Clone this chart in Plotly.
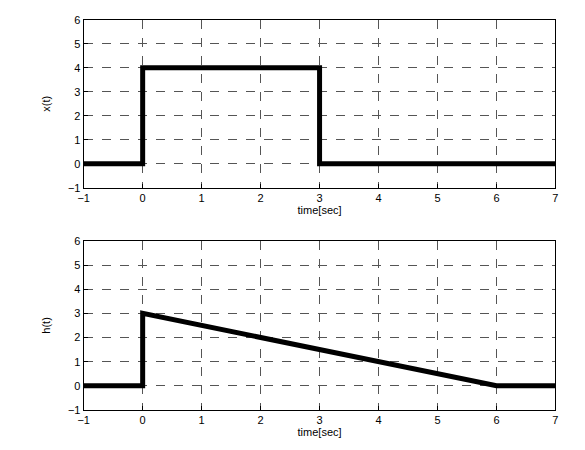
import plotly.graph_objects as go
from plotly.subplots import make_subplots

# x(t): rectangular pulse
x_time = [-1, 0, 0, 3, 3, 7]
x_vals = [0, 0, 4, 4, 0, 0]

# h(t): ramp down from 3 to 0
h_time = [-1, 0, 0, 6, 7]
h_vals = [0, 0, 3, 0, 0]

fig = make_subplots(rows=2, cols=1)
fig.add_trace(go.Scatter(x=x_time, y=x_vals, mode="lines",
                         line=dict(color="black", width=5)), row=1, col=1)
fig.add_trace(go.Scatter(x=h_time, y=h_vals, mode="lines",
                         line=dict(color="black", width=5)), row=2, col=1)

font = dict(family="Liberation Sans", size=11, color="black")
axis_style = dict(showgrid=True, gridcolor="#555", griddash="dash", gridwidth=1,
                  showline=True, linecolor="black", mirror=True, zeroline=False,
                  ticks="inside", ticklen=4, tickcolor="black", tickfont=font)

fig.update_xaxes(range=[-1, 7], dtick=1, domain=[0.121, 0.940],
                 title=dict(text="time[sec]", standoff=2, font=font), **axis_style)
fig.update_yaxes(range=[-1, 6], dtick=1, **axis_style)
fig.update_yaxes(domain=[0.603, 0.987], row=1, col=1,
                 title=dict(text="x(t)", font=font))
fig.update_yaxes(domain=[0.096, 0.482], row=2, col=1,
                 title=dict(text="h(t)", font=font))

fig.update_layout(width=585, height=450, showlegend=False,
                  margin=dict(l=0, r=0, t=0, b=0),
                  plot_bgcolor="white", paper_bgcolor="white")
fig.write_html("out.html")
